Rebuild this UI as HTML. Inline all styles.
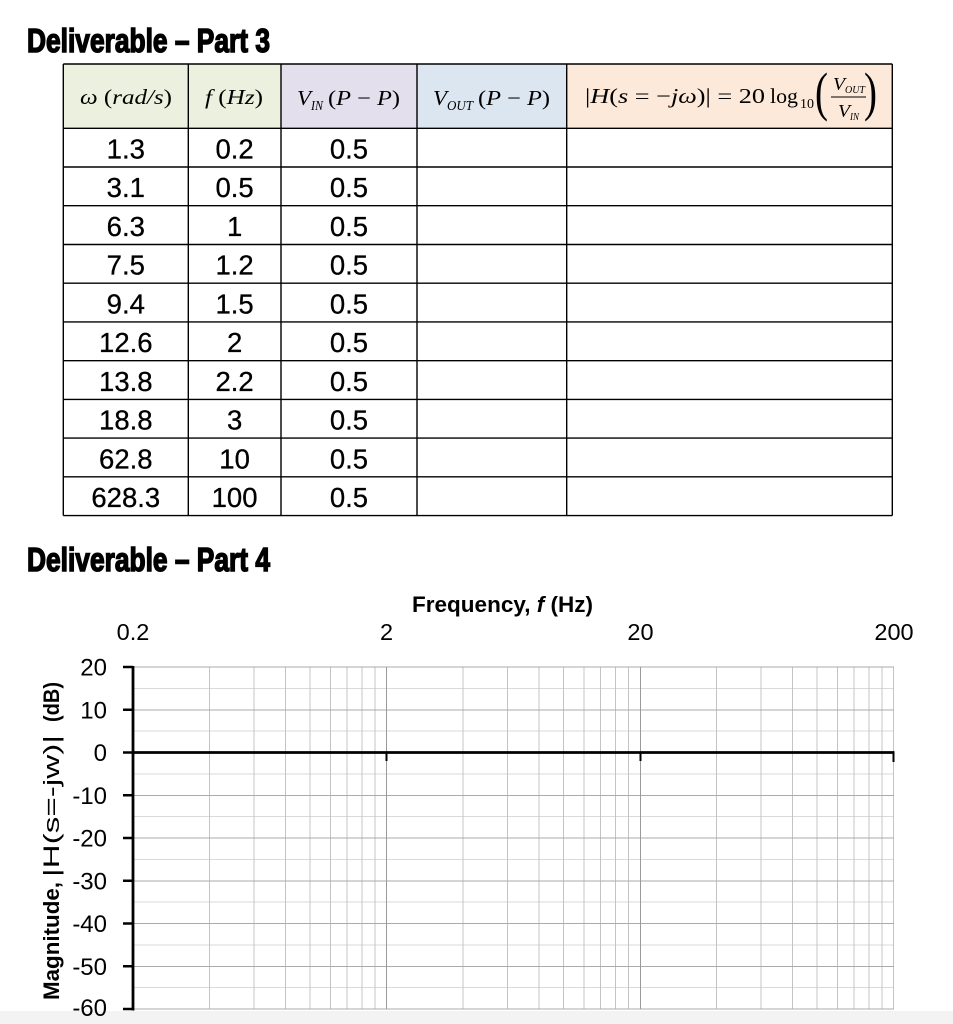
<!DOCTYPE html>
<html><head><meta charset="utf-8">
<style>html,body{margin:0;padding:0;background:#fff}svg{display:block}</style>
</head>
<body>
<svg width="953" height="1024" viewBox="0 0 953 1024" xmlns="http://www.w3.org/2000/svg">
<rect width="953" height="1024" fill="#fff"/>
<rect x="0" y="1011" width="953" height="13" fill="#f3f3f3"/>

<!-- Titles -->
<text x="27" y="52" font-family="'Liberation Sans', sans-serif" font-weight="bold" font-size="33" textLength="243" lengthAdjust="spacingAndGlyphs" stroke="#000" stroke-width="1.5">Deliverable – Part 3</text>
<text x="27" y="571" font-family="'Liberation Sans', sans-serif" font-weight="bold" font-size="33" textLength="243" lengthAdjust="spacingAndGlyphs" stroke="#000" stroke-width="1.5">Deliverable – Part 4</text>

<!-- Table header fills -->
<rect x="63.3" y="64" width="125" height="64.3" fill="#ebf1de"/>
<rect x="188.3" y="64" width="92.7" height="64.3" fill="#ebf1de"/>
<rect x="281" y="64" width="136" height="64.3" fill="#e4dfec"/>
<rect x="417" y="64" width="149.7" height="64.3" fill="#dce6f1"/>
<rect x="566.7" y="64" width="325.6" height="64.3" fill="#fde9d9"/>

<!-- Table lines -->
<g stroke="#000" stroke-width="1.4">
<line x1="63.3" y1="64" x2="892.3" y2="64"/>
<line x1="63.3" y1="128.3" x2="892.3" y2="128.3"/>
<line x1="63.3" y1="167.0" x2="892.3" y2="167.0"/>
<line x1="63.3" y1="205.7" x2="892.3" y2="205.7"/>
<line x1="63.3" y1="244.5" x2="892.3" y2="244.5"/>
<line x1="63.3" y1="283.2" x2="892.3" y2="283.2"/>
<line x1="63.3" y1="321.9" x2="892.3" y2="321.9"/>
<line x1="63.3" y1="360.7" x2="892.3" y2="360.7"/>
<line x1="63.3" y1="399.4" x2="892.3" y2="399.4"/>
<line x1="63.3" y1="438.1" x2="892.3" y2="438.1"/>
<line x1="63.3" y1="476.8" x2="892.3" y2="476.8"/>
<line x1="63.3" y1="515.6" x2="892.3" y2="515.6"/>
<line x1="63.3" y1="64" x2="63.3" y2="515.6"/>
<line x1="188.3" y1="64" x2="188.3" y2="515.6"/>
<line x1="281" y1="64" x2="281" y2="515.6"/>
<line x1="417" y1="64" x2="417" y2="515.6"/>
<line x1="566.7" y1="64" x2="566.7" y2="515.6"/>
<line x1="892.3" y1="64" x2="892.3" y2="515.6"/>
</g>

<!-- Header texts -->
<g font-family="'Liberation Serif', serif" fill="#000">
<text x="80" y="104" font-size="21" textLength="92" lengthAdjust="spacingAndGlyphs"><tspan font-style="italic">ω</tspan> (<tspan font-style="italic">rad/s</tspan>)</text>
<text x="205" y="104" font-size="21" textLength="58" lengthAdjust="spacingAndGlyphs"><tspan font-style="italic">f</tspan> (<tspan font-style="italic">Hz</tspan>)</text>

<text x="297" y="105" font-size="21" font-style="italic" textLength="14" lengthAdjust="spacingAndGlyphs">V</text>
<text x="311" y="110" font-size="14" font-style="italic" textLength="12" lengthAdjust="spacingAndGlyphs">IN</text>
<text x="328" y="105" font-size="21" textLength="72" lengthAdjust="spacingAndGlyphs">(<tspan font-style="italic">P</tspan> − <tspan font-style="italic">P</tspan>)</text>

<text x="433" y="105" font-size="21" font-style="italic" textLength="14" lengthAdjust="spacingAndGlyphs">V</text>
<text x="447" y="110" font-size="14" font-style="italic" textLength="26" lengthAdjust="spacingAndGlyphs">OUT</text>
<text x="478" y="105" font-size="21" textLength="72" lengthAdjust="spacingAndGlyphs">(<tspan font-style="italic">P</tspan> − <tspan font-style="italic">P</tspan>)</text>

<text x="585" y="103" font-size="21" textLength="180" lengthAdjust="spacingAndGlyphs">|<tspan font-style="italic">H</tspan>(<tspan font-style="italic">s</tspan> = −<tspan font-style="italic">jω</tspan>)| = 20</text>
<text x="770" y="103" font-size="21" textLength="28" lengthAdjust="spacingAndGlyphs">log</text>
<text x="800" y="108" font-size="14" textLength="14" lengthAdjust="spacingAndGlyphs">10</text>
<text x="815" y="110" font-size="54" textLength="13" lengthAdjust="spacingAndGlyphs">(</text>
<text x="833" y="90" font-size="18" font-style="italic" textLength="12" lengthAdjust="spacingAndGlyphs">V</text>
<text x="845" y="93" font-size="11" font-style="italic" textLength="20" lengthAdjust="spacingAndGlyphs">OUT</text>
<line x1="831" y1="97" x2="866" y2="97" stroke="#000" stroke-width="1"/>
<text x="838" y="117" font-size="18" font-style="italic" textLength="12" lengthAdjust="spacingAndGlyphs">V</text>
<text x="850" y="120" font-size="11" font-style="italic" textLength="9" lengthAdjust="spacingAndGlyphs">IN</text>
<text x="864" y="110" font-size="54" textLength="13" lengthAdjust="spacingAndGlyphs">)</text>
</g>

<!-- Table numbers -->
<g font-family="'Liberation Sans', sans-serif" font-size="27.5" fill="#000" stroke="#000" stroke-width="0.3" text-anchor="middle">
<text x="125.8" y="158.5">1.3</text><text x="234.6" y="158.5">0.2</text><text x="349" y="158.5">0.5</text>
<text x="125.8" y="197.2">3.1</text><text x="234.6" y="197.2">0.5</text><text x="349" y="197.2">0.5</text>
<text x="125.8" y="235.9">6.3</text><text x="234.6" y="235.9">1</text><text x="349" y="235.9">0.5</text>
<text x="125.8" y="274.7">7.5</text><text x="234.6" y="274.7">1.2</text><text x="349" y="274.7">0.5</text>
<text x="125.8" y="313.4">9.4</text><text x="234.6" y="313.4">1.5</text><text x="349" y="313.4">0.5</text>
<text x="125.8" y="352.1">12.6</text><text x="234.6" y="352.1">2</text><text x="349" y="352.1">0.5</text>
<text x="125.8" y="390.9">13.8</text><text x="234.6" y="390.9">2.2</text><text x="349" y="390.9">0.5</text>
<text x="125.8" y="429.6">18.8</text><text x="234.6" y="429.6">3</text><text x="349" y="429.6">0.5</text>
<text x="125.8" y="468.3">62.8</text><text x="234.6" y="468.3">10</text><text x="349" y="468.3">0.5</text>
<text x="125.8" y="507.0">628.3</text><text x="234.6" y="507.0">100</text><text x="349" y="507.0">0.5</text>
</g>

<!-- Chart grid -->
<g shape-rendering="crispEdges" stroke-width="1">
<g stroke="#dadada">
<line x1="133" y1="688.4" x2="894" y2="688.4"/>
<line x1="133" y1="731.1" x2="894" y2="731.1"/>
<line x1="133" y1="773.9" x2="894" y2="773.9"/>
<line x1="133" y1="816.6" x2="894" y2="816.6"/>
<line x1="133" y1="859.4" x2="894" y2="859.4"/>
<line x1="133" y1="902.1" x2="894" y2="902.1"/>
<line x1="133" y1="944.9" x2="894" y2="944.9"/>
<line x1="133" y1="987.6" x2="894" y2="987.6"/>
</g>
<g stroke="#c4c4c4">
<line x1="209.3" y1="667" x2="209.3" y2="1009"/>
<line x1="254.0" y1="667" x2="254.0" y2="1009"/>
<line x1="285.6" y1="667" x2="285.6" y2="1009"/>
<line x1="310.2" y1="667" x2="310.2" y2="1009"/>
<line x1="330.3" y1="667" x2="330.3" y2="1009"/>
<line x1="347.2" y1="667" x2="347.2" y2="1009"/>
<line x1="361.9" y1="667" x2="361.9" y2="1009"/>
<line x1="374.9" y1="667" x2="374.9" y2="1009"/>
<line x1="462.8" y1="667" x2="462.8" y2="1009"/>
<line x1="507.5" y1="667" x2="507.5" y2="1009"/>
<line x1="539.1" y1="667" x2="539.1" y2="1009"/>
<line x1="563.7" y1="667" x2="563.7" y2="1009"/>
<line x1="583.8" y1="667" x2="583.8" y2="1009"/>
<line x1="600.7" y1="667" x2="600.7" y2="1009"/>
<line x1="615.4" y1="667" x2="615.4" y2="1009"/>
<line x1="628.4" y1="667" x2="628.4" y2="1009"/>
<line x1="716.3" y1="667" x2="716.3" y2="1009"/>
<line x1="761.0" y1="667" x2="761.0" y2="1009"/>
<line x1="792.6" y1="667" x2="792.6" y2="1009"/>
<line x1="817.2" y1="667" x2="817.2" y2="1009"/>
<line x1="837.3" y1="667" x2="837.3" y2="1009"/>
<line x1="854.2" y1="667" x2="854.2" y2="1009"/>
<line x1="868.9" y1="667" x2="868.9" y2="1009"/>
<line x1="881.9" y1="667" x2="881.9" y2="1009"/>
<line x1="893.5" y1="667" x2="893.5" y2="1009"/>
</g>
<g stroke="#ababab">
<line x1="133" y1="667" x2="894" y2="667"/>
<line x1="133" y1="709.75" x2="894" y2="709.75"/>
<line x1="133" y1="795.25" x2="894" y2="795.25"/>
<line x1="133" y1="838" x2="894" y2="838"/>
<line x1="133" y1="880.75" x2="894" y2="880.75"/>
<line x1="133" y1="923.5" x2="894" y2="923.5"/>
<line x1="133" y1="966.25" x2="894" y2="966.25"/>
<line x1="133" y1="1009" x2="894" y2="1009"/>
</g>
<g stroke="#9a9a9a">
<line x1="386.5" y1="667" x2="386.5" y2="1009"/>
<line x1="640.5" y1="667" x2="640.5" y2="1009"/>
</g>
</g>

<!-- Axes -->
<g stroke="#000">
<line x1="133" y1="666" x2="133" y2="1010.5" stroke-width="2.8"/>
<line x1="131.6" y1="752.5" x2="894.5" y2="752.5" stroke-width="2.8"/>
<g stroke-width="2.5">
<line x1="123" y1="667" x2="133" y2="667"/>
<line x1="123" y1="709.75" x2="133" y2="709.75"/>
<line x1="123" y1="752.5" x2="133" y2="752.5"/>
<line x1="123" y1="795.25" x2="133" y2="795.25"/>
<line x1="123" y1="838" x2="133" y2="838"/>
<line x1="123" y1="880.75" x2="133" y2="880.75"/>
<line x1="123" y1="923.5" x2="133" y2="923.5"/>
<line x1="123" y1="966.25" x2="133" y2="966.25"/>
<line x1="123" y1="1009" x2="133" y2="1009"/>
</g>
<g stroke-width="2">
<line x1="386.5" y1="752" x2="386.5" y2="761"/>
<line x1="640.5" y1="752" x2="640.5" y2="761"/>
<line x1="893.5" y1="752" x2="893.5" y2="762"/>
</g>
</g>

<!-- Y tick labels -->
<g font-family="'Liberation Sans', sans-serif" font-size="24" fill="#000" text-anchor="end">
<text x="107" y="675.5">20</text>
<text x="107" y="718.25">10</text>
<text x="107" y="761">0</text>
<text x="107" y="803.75">-10</text>
<text x="107" y="846.5">-20</text>
<text x="107" y="889.25">-30</text>
<text x="107" y="932">-40</text>
<text x="107" y="974.75">-50</text>
<text x="107" y="1016">-60</text>
</g>

<!-- X tick labels -->
<g font-family="'Liberation Sans', sans-serif" font-size="23.5" fill="#000" text-anchor="middle">
<text x="133" y="640">0.2</text>
<text x="386.5" y="640">2</text>
<text x="640.5" y="640">20</text>
<text x="894" y="640">200</text>
</g>

<!-- X axis title -->
<text x="412" y="612" font-family="'Liberation Sans', sans-serif" font-weight="bold" font-size="22.5" fill="#000" textLength="181" lengthAdjust="spacingAndGlyphs">Frequency, <tspan font-style="italic">f</tspan> (Hz)</text>

<!-- Y axis title -->
<g font-family="'Liberation Sans', sans-serif" font-size="22" fill="#000">
<text transform="translate(59,1000) rotate(-90)" font-weight="bold" textLength="118" lengthAdjust="spacingAndGlyphs">Magnitude,</text>
<text transform="translate(59,877) rotate(-90)" textLength="142" lengthAdjust="spacingAndGlyphs">|H(s=-jw)|</text>
<text transform="translate(59,722) rotate(-90)" font-weight="bold" textLength="40" lengthAdjust="spacingAndGlyphs">(dB)</text>
</g>
</svg>
</body></html>
